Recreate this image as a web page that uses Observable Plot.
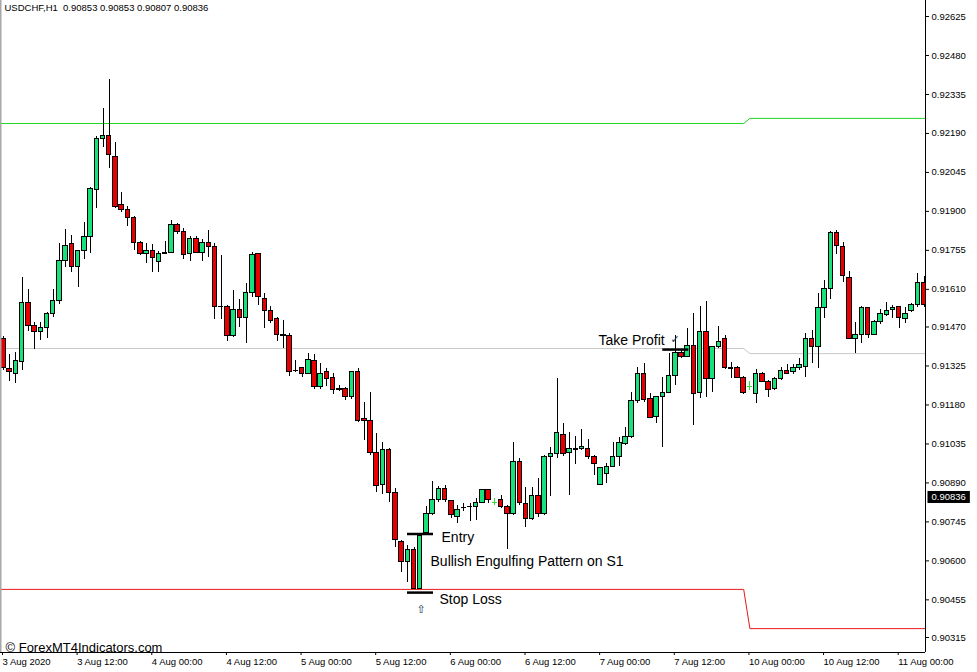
<!DOCTYPE html>
<html><head><meta charset="utf-8">
<script src="https://cdn.jsdelivr.net/npm/d3@7"></script>
<script src="https://cdn.jsdelivr.net/npm/@observablehq/plot@0.6"></script>
<style>html,body{margin:0;padding:0;background:#fff;overflow:hidden}</style>
</head><body><div id="chart"></div>
<script>
// ---- data ----
const symbolInfo = "USDCHF,H1\u00a0\u00a00.90853 0.90853 0.90807 0.90836";
const currentPrice = 0.90836;
const copyright = "© ForexMT4Indicators.com";

const open = [0.91427,0.91312,0.91297,0.91338,0.91561,0.91472,0.91450,0.91468,0.91517,0.91565,
0.91714,0.91777,0.91695,0.91751,0.91803,0.91978,0.92168,0.92182,0.92104,0.91922,
0.91907,0.91874,0.91781,0.91743,0.91751,0.91710,0.91743,0.91747,0.91848,0.91825,
0.91740,0.91799,0.91747,0.91784,0.91766,0.91546,0.91543,0.91435,0.91535,0.91505,
0.91595,0.91740,0.91576,0.91531,0.91498,0.91442,0.91438,0.91305,0.91316,0.91297,
0.91345,0.91245,0.91301,0.91282,0.91234,0.91241,0.91208,0.91301,0.91126,0.91122,
0.91003,0.90884,0.91014,0.90851,0.90672,0.90594,0.90642,0.90497,0.90702,0.90773,
0.90828,0.90866,0.90821,0.90765,0.90797,0.90799,0.90799,0.90817,0.90862,0.90819,
0.90828,0.90799,0.90776,0.90966,0.90813,0.90754,0.90840,0.90776,0.90988,0.90999,
0.91070,0.91003,0.91018,0.91018,0.91018,0.90988,0.90884,0.90925,0.90951,0.90985,
0.91033,0.91059,0.91193,0.91297,0.91204,0.91137,0.91208,0.91226,0.91286,0.91375,
0.91360,0.91398,0.91223,0.91453,0.91278,0.91394,0.91424,0.91319,0.91319,0.91282,
0.91250,0.91219,0.91297,0.91267,0.91238,0.91275,0.91308,0.91301,0.91316,0.91323,
0.91427,0.91394,0.91539,0.91613,0.91818,0.91766,0.91654,0.91427,0.91442,0.91539,
0.91442,0.91487,0.91513,0.91535,0.91543,0.91498,0.91531,0.91550,0.91632];
const high = [0.91435,0.91368,0.91375,0.91654,0.91610,0.91487,0.91487,0.91524,0.91610,0.91781,
0.91833,0.91810,0.91755,0.91859,0.91989,0.92179,0.92283,0.92391,0.92156,0.91970,
0.91918,0.91881,0.91788,0.91781,0.91777,0.91751,0.91788,0.91866,0.91855,0.91836,
0.91807,0.91807,0.91796,0.91829,0.91781,0.91736,0.91550,0.91606,0.91572,0.91632,
0.91747,0.91743,0.91595,0.91546,0.91505,0.91494,0.91446,0.91345,0.91319,0.91371,
0.91368,0.91334,0.91316,0.91297,0.91252,0.91245,0.91305,0.91316,0.91189,0.91226,
0.91074,0.91040,0.91018,0.90869,0.90676,0.90657,0.90650,0.90698,0.90802,0.90895,
0.90877,0.90880,0.90825,0.90806,0.90813,0.90813,0.90832,0.90866,0.90866,0.90832,
0.90843,0.90806,0.91040,0.90981,0.90873,0.90873,0.90906,0.90992,0.91022,0.91278,
0.91111,0.91078,0.91063,0.91089,0.91052,0.90992,0.90944,0.90962,0.91040,0.91059,
0.91096,0.91226,0.91319,0.91334,0.91223,0.91212,0.91282,0.91371,0.91438,0.91386,
0.91464,0.91520,0.91546,0.91565,0.91398,0.91472,0.91438,0.91338,0.91323,0.91286,
0.91267,0.91312,0.91301,0.91271,0.91282,0.91319,0.91331,0.91331,0.91353,0.91446,
0.91457,0.91595,0.91643,0.91825,0.91829,0.91784,0.91677,0.91487,0.91546,0.91543,
0.91494,0.91535,0.91561,0.91550,0.91546,0.91543,0.91557,0.91669,0.91658];
const low = [0.91308,0.91267,0.91260,0.91308,0.91453,0.91386,0.91420,0.91427,0.91505,0.91554,
0.91691,0.91673,0.91617,0.91721,0.91743,0.91911,0.92138,0.92060,0.91911,0.91896,
0.91844,0.91755,0.91736,0.91706,0.91673,0.91673,0.91740,0.91743,0.91814,0.91721,
0.91714,0.91743,0.91714,0.91729,0.91498,0.91498,0.91416,0.91431,0.91468,0.91409,
0.91580,0.91550,0.91464,0.91483,0.91416,0.91390,0.91286,0.91301,0.91282,0.91293,
0.91238,0.91238,0.91249,0.91219,0.91230,0.91197,0.91200,0.91115,0.91048,0.90992,
0.90854,0.90847,0.90817,0.90650,0.90557,0.90520,0.90494,0.90494,0.90698,0.90769,
0.90817,0.90817,0.90758,0.90739,0.90784,0.90747,0.90750,0.90813,0.90813,0.90806,
0.90795,0.90642,0.90769,0.90806,0.90724,0.90750,0.90761,0.90769,0.90840,0.90981,
0.90988,0.90843,0.90959,0.91011,0.90977,0.90918,0.90880,0.90888,0.90947,0.90951,
0.91029,0.91055,0.91185,0.91189,0.91130,0.91111,0.91022,0.91223,0.91252,0.91353,
0.91357,0.91104,0.91204,0.91208,0.91226,0.91390,0.91312,0.91278,0.91278,0.91219,
0.91234,0.91185,0.91264,0.91208,0.91234,0.91271,0.91293,0.91293,0.91308,0.91282,
0.91334,0.91316,0.91502,0.91572,0.91740,0.91636,0.91424,0.91371,0.91409,0.91427,
0.91438,0.91479,0.91509,0.91502,0.91464,0.91483,0.91524,0.91543,0.91543];
const close = [0.91316,0.91301,0.91342,0.91561,0.91472,0.91453,0.91468,0.91517,0.91565,0.91717,
0.91773,0.91695,0.91751,0.91803,0.91982,0.92171,0.92182,0.92108,0.91918,0.91907,
0.91874,0.91781,0.91743,0.91751,0.91725,0.91743,0.91747,0.91848,0.91825,0.91736,
0.91799,0.91747,0.91784,0.91766,0.91546,0.91543,0.91435,0.91535,0.91502,0.91595,
0.91736,0.91580,0.91531,0.91491,0.91442,0.91438,0.91301,0.91308,0.91297,0.91349,
0.91245,0.91297,0.91278,0.91234,0.91241,0.91208,0.91301,0.91119,0.91122,0.91003,
0.90877,0.91014,0.90851,0.90676,0.90594,0.90642,0.90497,0.90694,0.90773,0.90828,
0.90866,0.90828,0.90769,0.90791,0.90796,0.90800,0.90817,0.90862,0.90825,0.90819,
0.90799,0.90776,0.90966,0.90817,0.90754,0.90840,0.90776,0.90988,0.90999,0.91074,
0.90999,0.91018,0.91014,0.91022,0.90988,0.90959,0.90944,0.90951,0.90985,0.91040,
0.91059,0.91193,0.91297,0.91200,0.91133,0.91208,0.91223,0.91286,0.91375,0.91357,
0.91398,0.91219,0.91453,0.91278,0.91394,0.91416,0.91316,0.91312,0.91282,0.91223,
0.91250,0.91297,0.91267,0.91234,0.91275,0.91308,0.91297,0.91316,0.91327,0.91424,
0.91394,0.91539,0.91613,0.91818,0.91770,0.91658,0.91427,0.91442,0.91539,0.91442,
0.91487,0.91517,0.91528,0.91539,0.91502,0.91520,0.91550,0.91632,0.91550];

const xTickBars = [0,12,24,36,48,60,72,84,96,108,120,132,144];
const xTickLabels = ["3 Aug 2020","3 Aug 12:00","4 Aug 00:00","4 Aug 12:00","5 Aug 00:00","5 Aug 12:00",
  "6 Aug 00:00","6 Aug 12:00","7 Aug 00:00","7 Aug 12:00","10 Aug 00:00","10 Aug 12:00","11 Aug 00:00"];
const yTicks = [0.92625,0.92480,0.92335,0.92190,0.92045,0.91900,0.91755,0.91610,0.91470,
  0.91325,0.91180,0.91035,0.90890,0.90745,0.90600,0.90455,0.90315];

// weekly pivot levels (week 1 / week 2)
const pivotWeekStart = [-1, 120];
const pivotWeekEnd = [119, 150];
const levelR1 = [0.92227, 0.92246];
const levelPP = [0.91390, 0.91371];
const levelS1 = [0.90494, 0.90348];

// trade annotation lines
const tradeLinePrice = [0.91386, 0.90700, 0.90482];
const tradeLineFrom = [105.99, 64.95, 64.95];
const tradeLineTo = [110.17, 69.13, 69.13];

// annotation texts
const noteText = ["Take Profit", "Entry", "Bullish Engulfing Pattern on S1", "Stop Loss"];
const noteBar = [95.66, 70.42, 68.65, 70.1];
const notePrice = [0.91420, 0.90687, 0.90598, 0.90458];
const markerText = ["\u2713", "\u21e7"];
const markerBar = [107.96, 67.12];
const markerPrice = [0.91424, 0.90419];

const xDomain = [-0.482, 148.23];
const yDomain = [0.902592, 0.926845];

// ---- build ----
const UP = "#18e07a", DOWN = "#e80000", FLAT = "#33dd33";
const bodyHalf = 0.36;
const candles = open.map((o, i) => ({i, o, h: high[i], l: low[i], c: close[i]}));
const bodies = candles.filter(d => d.o !== d.c);
const flats = candles.filter(d => d.o === d.c);

const levels = [
  {name: "R1", values: levelR1, color: "#22d622"},
  {name: "PP", values: levelPP, color: "#c8c8c8"},
  {name: "S1", values: levelS1, color: "#e81818"}
];
const pivotPts = levels.flatMap(l => l.values.flatMap((v, w) => [
  {name: l.name, color: l.color, x: pivotWeekStart[w], y: v},
  {name: l.name, color: l.color, x: pivotWeekEnd[w], y: v}
]));
const tradeLines = tradeLinePrice.map((p, k) => ({p, a: tradeLineFrom[k], b: tradeLineTo[k]}));
const notes = noteText.map((t, k) => ({t, x: noteBar[k], y: notePrice[k]}));
const markers = markerText.map((t, k) => ({t, x: markerBar[k], y: markerPrice[k]}));

const FONT = "'Liberation Sans', Arial, sans-serif";
const svg = Plot.plot({
  width: 977, height: 672,
  marginLeft: 0, marginRight: 52, marginTop: 0, marginBottom: 20,
  x: {type: "linear", domain: xDomain, axis: null},
  y: {type: "linear", domain: yDomain, axis: null},
  color: {type: "identity"},
  style: {fontFamily: FONT, background: "#fff", color: "#000", overflow: "visible"},
  marks: [
    Plot.line(pivotPts, {x: "x", y: "y", z: "name", stroke: "color", strokeWidth: 1, clip: true}),
    Plot.ruleX(candles, {x: "i", y1: "l", y2: "h", stroke: d => d.o === d.c ? FLAT : "#000", strokeWidth: 1, shapeRendering: "crispEdges", clip: true}),
    Plot.rect(bodies, {x1: d => d.i - bodyHalf, x2: d => d.i + bodyHalf, y1: "o", y2: "c",
      fill: d => d.c > d.o ? UP : DOWN, stroke: "#000", strokeWidth: 1, shapeRendering: "crispEdges", clip: true}),
    Plot.ruleY(flats, {y: "o", x1: d => d.i - bodyHalf, x2: d => d.i + bodyHalf, stroke: FLAT, strokeWidth: 1, shapeRendering: "crispEdges"}),
    Plot.ruleY(tradeLines, {y: "p", x1: "a", x2: "b", stroke: "#000", strokeWidth: 2.5}),
    Plot.text(notes, {x: "x", y: "y", text: "t", textAnchor: "start", fontSize: 14, fill: "#000"}),
    Plot.text(markers, {x: "x", y: "y", text: "t", textAnchor: "middle", fontSize: 11, fill: "#223355", fontFamily: "'DejaVu Sans', sans-serif"}),
    // frame
    Plot.ruleX([xDomain[0]], {stroke: "#a8a8a8", strokeWidth: 2}),
    Plot.ruleY([yDomain[0]], {stroke: "#000", strokeWidth: 1}),
    Plot.ruleX([xDomain[1]], {stroke: "#000", strokeWidth: 1}),
    Plot.axisY({anchor: "right", ticks: yTicks, tickFormat: d => d.toFixed(5), tickSize: 3, tickPadding: 3, fontSize: 9.5}),
    Plot.axisX({ticks: xTickBars, tickFormat: d => xTickLabels[xTickBars.indexOf(d)], textAnchor: "start", dx: -1, tickSize: 3, tickPadding: 3, fontSize: 9.5}),
    Plot.text([currentPrice], {y: d => d, text: d => d.toFixed(5), frameAnchor: "right", dx: 6, textAnchor: "start", fill: "#fff", fontSize: 9.5}),
    Plot.text([symbolInfo], {frameAnchor: "top-left", dx: 4, dy: 4, textAnchor: "start", lineAnchor: "top", fontSize: 9.5}),
    Plot.text([copyright], {frameAnchor: "bottom-left", dx: 5, dy: -1, textAnchor: "start", lineAnchor: "bottom", fontSize: 13})
  ]
});
document.getElementById("chart").append(svg);

// black background box behind the current-price tag
const tag = [...svg.querySelectorAll("text")].find(t => t.textContent === currentPrice.toFixed(5));
if (tag) {
  const bb = tag.getBBox();
  const r = document.createElementNS("http://www.w3.org/2000/svg", "rect");
  r.setAttribute("x", bb.x - 4);
  r.setAttribute("y", bb.y - 0.5);
  r.setAttribute("width", bb.width + 8);
  r.setAttribute("height", bb.height + 1);
  r.setAttribute("fill", "#000");
  if (tag.getAttribute("transform")) r.setAttribute("transform", tag.getAttribute("transform"));
  tag.parentNode.insertBefore(r, tag);
}
</script>
</body></html>
